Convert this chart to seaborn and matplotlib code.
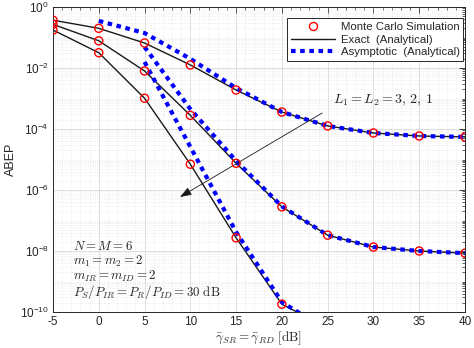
import numpy as np
import pandas as pd
import matplotlib
matplotlib.use("Agg")
import matplotlib.pyplot as plt
import seaborn as sns
from matplotlib.ticker import LogLocator, FixedLocator, MultipleLocator, LogFormatterSciNotation
from matplotlib.lines import Line2D

# ---- data ----
snr_db = [-5, 0, 5, 10, 15, 20, 25, 30, 35, 40]

exact_L3 = [0.37, 0.20, 0.066, 0.0126, 1.9e-3, 3.6e-4, 1.26e-4, 7.4e-5, 5.9e-5, 5.5e-5]
exact_L2 = [0.27, 0.078, 8.0e-3, 2.8e-4, 7.5e-6, 2.8e-7, 3.3e-8, 1.35e-8, 1.0e-8, 8.5e-9]
exact_L1_x = [-5, 0, 5, 10, 15, 20, 25]
exact_L1 = [0.176, 0.0317, 1.02e-3, 7.0e-6, 2.7e-8, 1.8e-10, 3.0e-11]

mc_L3 = exact_L3
mc_L2 = exact_L2
mc_L1_x = [-5, 0, 5, 10, 15, 20]
mc_L1 = [0.176, 0.0317, 1.02e-3, 7.0e-6, 2.7e-8, 1.8e-10]

asym_L3_x = [0, 5, 10, 15, 20, 25, 30, 35, 40]
asym_L3 = [0.35, 0.14, 0.020, 2.2e-3, 3.6e-4, 1.26e-4, 7.4e-5, 5.9e-5, 5.5e-5]
asym_L2_x = [5, 10, 15, 20, 25, 30, 35, 40]
asym_L2 = [0.049, 4.5e-4, 9.0e-6, 2.9e-7, 3.3e-8, 1.35e-8, 1.0e-8, 8.5e-9]
asym_L1_x = [5, 10, 15, 20, 25]
asym_L1 = [0.0158, 2.6e-5, 4.2e-8, 2.1e-10, 2.5e-11]

legend_labels = ["Monte Carlo Simulation", "Exact  (Analytical)", "Asymptotic  (Analytical)"]

# ---- figure ----
sns.set_theme(style="white")
plt.rcParams["font.family"] = ["Liberation Sans", "DejaVu Sans"]
plt.rcParams["mathtext.fontset"] = "cm"

fig = plt.figure(figsize=(4.74, 3.48), dpi=100)
ax = fig.add_axes([53/474, 1-312/348, (465-53)/474, (312-7)/348])

def df(x, y):
    return pd.DataFrame({"x": x, "y": y})

DOTS = (1.1, 1.1)

# asymptotic (blue dotted)
for xs, ys in [(asym_L3_x, asym_L3), (asym_L2_x, asym_L2), (asym_L1_x, asym_L1)]:
    sns.lineplot(data=df(xs, ys), x="x", y="y", ax=ax, color=(0, 0, 1), lw=3.0,
                 dashes=False, zorder=3)
for line in ax.get_lines():
    line.set_dashes(DOTS)
    line.set_dash_capstyle("butt")

# exact (black solid)
for xs, ys in [(snr_db, exact_L3), (snr_db, exact_L2), (exact_L1_x, exact_L1)]:
    sns.lineplot(data=df(xs, ys), x="x", y="y", ax=ax, color="k", lw=1.0, zorder=2)

# Monte Carlo (red circles)
for xs, ys in [(snr_db, mc_L3), (snr_db, mc_L2), (mc_L1_x, mc_L1)]:
    sns.scatterplot(data=df(xs, ys), x="x", y="y", ax=ax, marker="o", s=34,
                    facecolors="none", edgecolor="red", linewidth=1.0, zorder=4)

ax.set_yscale("log")
ax.set_xlim(-5, 40)
ax.set_ylim(1e-10, 1)

ax.xaxis.set_major_locator(MultipleLocator(5))
ax.xaxis.set_minor_locator(MultipleLocator(1))
ax.yaxis.set_major_locator(FixedLocator([10.0**k for k in range(-10, 1, 2)]))
ax.yaxis.set_major_formatter(LogFormatterSciNotation())
ax.yaxis.set_minor_locator(LogLocator(base=10, subs=np.arange(1, 10), numticks=30))
ax.yaxis.set_minor_formatter(plt.NullFormatter())
ax.xaxis.set_major_formatter(matplotlib.ticker.FuncFormatter(lambda v, p: f"{int(v)}"))

ax.grid(True, which="major", color="#d9d9d9", lw=0.6, ls="-")
ax.grid(True, which="minor", color="#e4e4e4", lw=0.5, ls=(0, (1, 1.5)))
ax.set_axisbelow(True)

ax.tick_params(which="both", direction="in", top=True, right=True, labelsize=8.5,
               color="#262626", pad=3)
ax.tick_params(which="major", length=4, width=0.6)
ax.tick_params(which="minor", length=2, width=0.5)
for s in ax.spines.values():
    s.set_color("#262626")
    s.set_linewidth(0.7)

ax.set_xlabel(r"$\bar{\gamma}_{SR}=\bar{\gamma}_{RD}\ \mathrm{[dB]}$", fontsize=9.5, labelpad=1)
ax.set_ylabel("ABEP", fontsize=9, labelpad=2)

handles = [
    Line2D([], [], ls="none", marker="o", markerfacecolor="none", markeredgecolor="red", markersize=5.8, mew=1.0),
    Line2D([], [], color="k", lw=1.0),
    Line2D([], [], color=(0, 0, 1), lw=3.0, dashes=DOTS, dash_capstyle="butt"),
]
leg = ax.legend(handles, legend_labels, loc="upper right", bbox_to_anchor=(0.996, 0.963),
                fontsize=8.2, frameon=True, fancybox=False, edgecolor="#262626",
                framealpha=1, handlelength=3.9, handletextpad=0.5, borderpad=0.3,
                labelspacing=0.25, borderaxespad=0)
leg.get_frame().set_linewidth(0.7)

# annotation arrow and label
ax.annotate("", xy=(8.87, 5.9e-7), xytext=(24.4, 3.35e-4),
            arrowprops=dict(arrowstyle="-|>,head_length=0.7,head_width=0.25", color="k",
                            lw=0.6, shrinkA=0, shrinkB=0, mutation_scale=10))
ax.text(25.6, 8.9e-4, r"$L_1 = L_2 = 3,\,2,\,1$", fontsize=10, ha="left", va="center")

params = [r"$N = M = 6$", r"$m_1 = m_2 = 2$", r"$m_{IR} = m_{ID} = 2$",
          r"$P_S/P_{IR} = P_R/P_{ID} = 30\ \mathrm{dB}$"]
for txt, yf in zip(params, [0.215, 0.166, 0.117, 0.066]):
    ax.text(0.048, yf, txt, transform=ax.transAxes, fontsize=9.3, ha="left", va="center")

fig.savefig("out.png", dpi=100)
